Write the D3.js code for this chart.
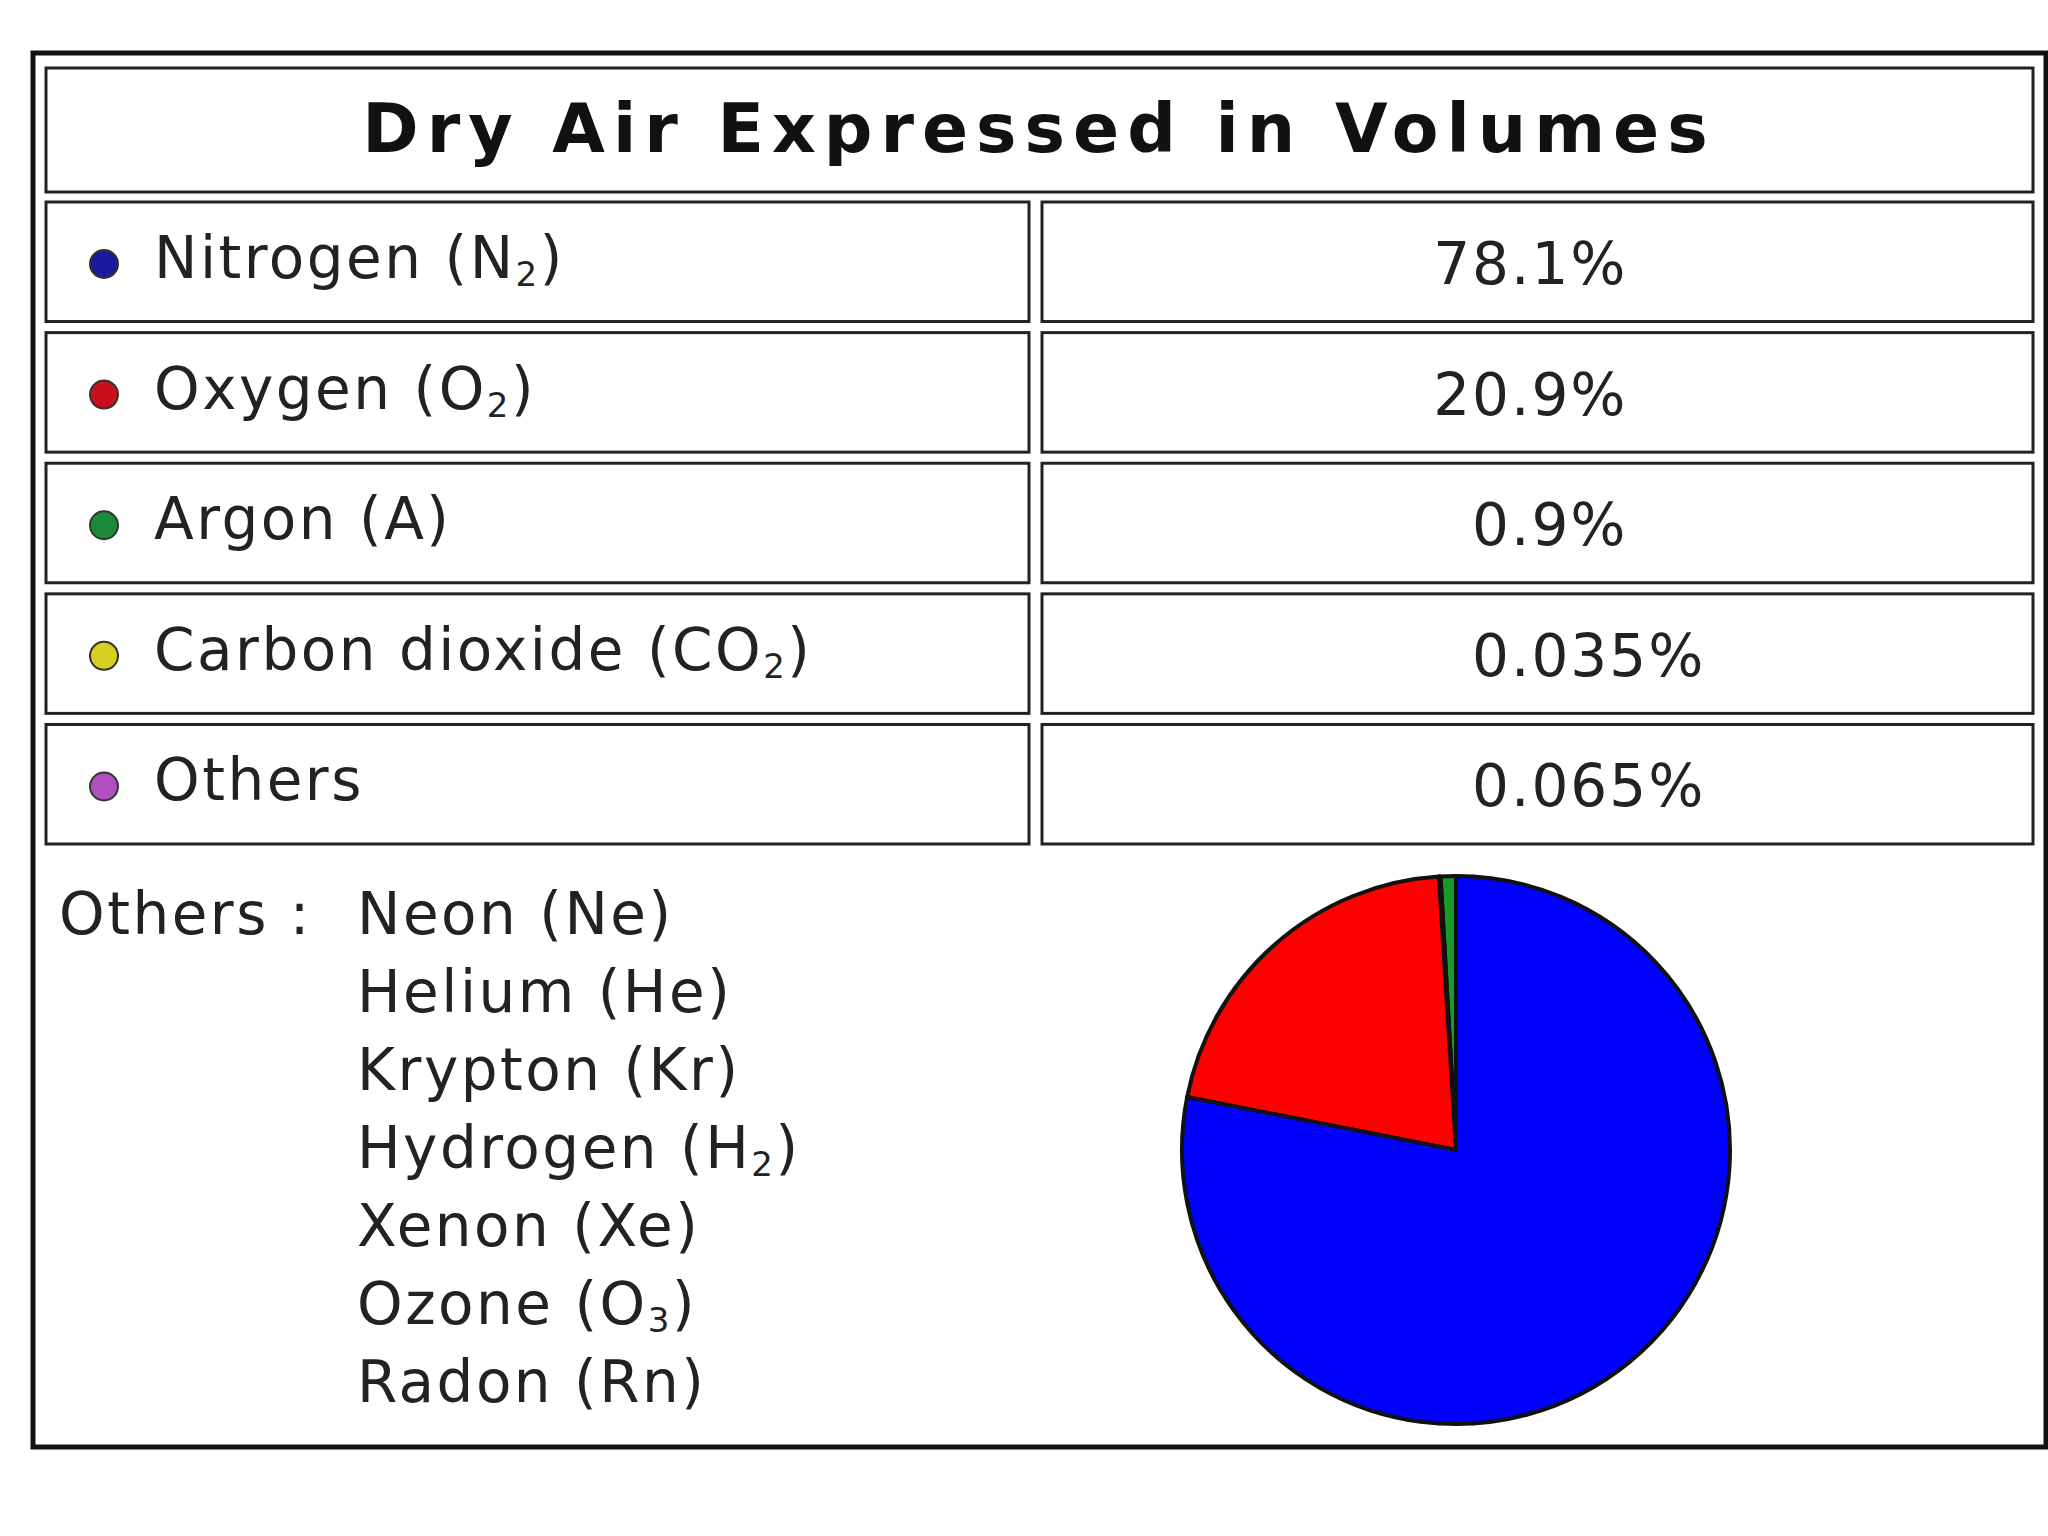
<!DOCTYPE html>
<html><head><meta charset="utf-8">
<script src="https://cdn.jsdelivr.net/npm/d3@7"></script>
<style>body{margin:0;background:#fff}</style></head>
<body><div id="vis"></div>
<script>
const gases = ["Nitrogen", "Oxygen", "Argon", "Carbon dioxide", "Others"];
const formulas = [["N", "2"], ["O", "2"], ["A", ""], ["CO", "2"], null];
const values = [78.1, 20.9, 0.9, 0.035, 0.065];
const labels = ["78.1%", "20.9%", "0.9%", "0.035%", "0.065%"];
const colors = ["#0000ff", "#ff0000", "#1a9a2a", "#f0e020", "#c050d0"];
const dotColors = ["#1a1a9c", "#c8101a", "#1a8a3a", "#d8d020", "#b050c0"];
const others = [["Neon (Ne)"], ["Helium (He)"], ["Krypton (Kr)"], ["Hydrogen (H", "2", ")"],
  ["Xenon (Xe)"], ["Ozone (O", "3", ")"], ["Radon (Rn)"]];
// pie order, counterclockwise from top
const pieOrder = [2, 4, 3, 1, 0];

const W = 2048, H = 1536, font = "DejaVu Sans, Verdana, sans-serif";
const svg = d3.select("#vis").append("svg").attr("width", W).attr("height", H);

svg.append("rect").attr("x", 33).attr("y", 53).attr("width", 2013).attr("height", 1394)
  .attr("fill", "#fff").attr("stroke", "#111").attr("stroke-width", 5);

svg.append("rect").attr("x", 46).attr("y", 68).attr("width", 1987).attr("height", 124)
  .attr("fill", "none").attr("stroke", "#222").attr("stroke-width", 3);
svg.append("text").attr("x", 1039).attr("y", 152).attr("text-anchor", "middle")
  .attr("font-family", font).attr("font-weight", "bold").attr("font-size", 68)
  .attr("letter-spacing", 8).attr("fill", "#111").text("Dry Air Expressed in Volumes");

const y = d3.scaleBand().domain(d3.range(gases.length)).range([202, 844]).paddingInner(0.085);
const rows = svg.selectAll("g.row").data(gases).join("g").attr("class", "row")
  .attr("transform", (d, i) => `translate(0,${y(i)})`);
rows.append("rect").attr("x", 46).attr("width", 983).attr("height", y.bandwidth())
  .attr("fill", "none").attr("stroke", "#222").attr("stroke-width", 3);
rows.append("rect").attr("x", 1042).attr("width", 991).attr("height", y.bandwidth())
  .attr("fill", "none").attr("stroke", "#222").attr("stroke-width", 3);
rows.append("circle").attr("cx", 104).attr("cy", 62).attr("r", 14)
  .attr("fill", (d, i) => dotColors[i]).attr("stroke", "#333").attr("stroke-width", 2);
const lt = rows.append("text").attr("x", 154).attr("y", 76).attr("font-family", font)
  .attr("font-size", 58).attr("letter-spacing", 2.5).attr("fill", "#222");
lt.each(function(d, i) {
  const t = d3.select(this);
  t.append("tspan").text(d);
  const f = formulas[i];
  if (!f) return;
  t.append("tspan").text(" (" + f[0]);
  if (f[1]) t.append("tspan").attr("font-size", 34).attr("dy", 8).text(f[1]);
  t.append("tspan").attr("dy", f[1] ? -8 : 0).text(")");
});
rows.append("text").attr("x", 1511).attr("y", 82).attr("text-anchor", "end")
  .attr("font-family", font).attr("font-size", 58).attr("letter-spacing", 2).attr("fill", "#222")
  .text((d, i) => labels[i].split(".")[0]);
rows.append("text").attr("x", 1511).attr("y", 82)
  .attr("font-family", font).attr("font-size", 58).attr("letter-spacing", 2).attr("fill", "#222")
  .text((d, i) => "." + labels[i].split(".")[1]);

svg.append("text").attr("x", 59).attr("y", 934).attr("font-family", font)
  .attr("font-size", 58).attr("letter-spacing", 2.5).attr("fill", "#222").text("Others :");
others.forEach((o, i) => {
  const t = svg.append("text").attr("x", 357).attr("y", 934 + i * 78)
    .attr("font-family", font).attr("font-size", 58).attr("letter-spacing", 2.5).attr("fill", "#222");
  t.append("tspan").text(o[0]);
  if (o.length > 1) {
    t.append("tspan").attr("font-size", 34).attr("dy", 8).text(o[1]);
    t.append("tspan").attr("dy", -8).text(o[2]);
  }
});

const pieData = pieOrder.map(i => ({ v: values[i], c: colors[i] }));
const pie = d3.pie().sort(null).value(d => d.v).startAngle(0).endAngle(-2 * Math.PI);
const arc = d3.arc().innerRadius(0).outerRadius(274);
svg.append("g").attr("transform", "translate(1456,1150)")
  .selectAll("path").data(pie(pieData)).join("path")
  .attr("d", arc).attr("fill", d => d.data.c)
  .attr("stroke", "#111").attr("stroke-width", 4).attr("stroke-linejoin", "round");
</script></body></html>
